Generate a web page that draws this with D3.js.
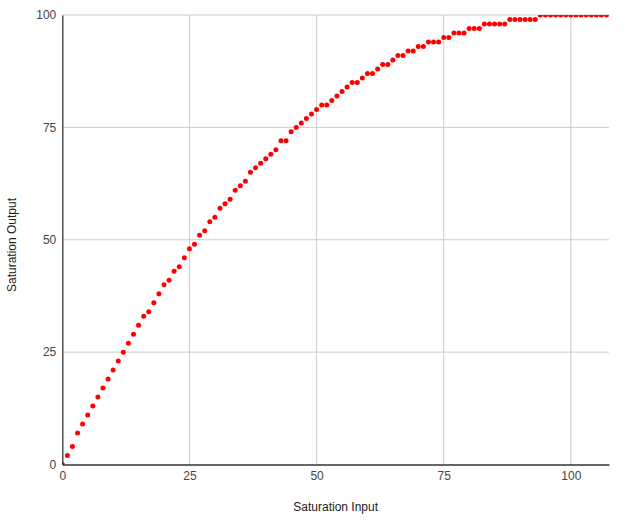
<!DOCTYPE html>
<html>
<head>
<meta charset="utf-8">
<script src="https://cdn.jsdelivr.net/npm/d3@7"></script>
<style>
  body { margin: 0; background: #fff; }
  text { font-family: "Liberation Sans", Arial, sans-serif; }
</style>
</head>
<body>
<div id="vis"></div>
<script>
const width = 629;
const height = 527;
const margin = { top: 15, right: 20, bottom: 62.5, left: 62.3 };

// saturation curve: input 0..107, output
const inputs = d3.range(0, 108);
const outputs = [
  0, 2, 4, 7, 9, 11, 13, 15, 17, 19,
  21, 23, 25, 27, 29, 31, 33, 34, 36, 38,
  40, 41, 43, 44, 46, 48, 49, 51, 52, 54,
  55, 57, 58, 59, 61, 62, 63, 65, 66, 67,
  68, 69, 70, 72, 72, 74, 75, 76, 77, 78,
  79, 80, 80, 81, 82, 83, 84, 85, 85, 86,
  87, 87, 88, 89, 89, 90, 91, 91, 92, 92,
  93, 93, 94, 94, 94, 95, 95, 96, 96, 96,
  97, 97, 97, 98, 98, 98, 98, 98, 99, 99,
  99, 99, 99, 99, 100, 100, 100, 100, 100, 100,
  100, 100, 100, 100, 100, 100, 100, 100
];
const xTicks = [0, 25, 50, 75, 100];
const yTicks = [0, 25, 50, 75, 100];

const points = inputs.map((x, i) => [x, outputs[i]]);

const innerW = width - margin.left - margin.right;
const innerH = height - margin.top - margin.bottom;

const xScale = d3.scaleLinear().domain([0, 107.5]).range([0, innerW]);
const yScale = d3.scaleLinear().domain([0, 100]).range([innerH, 0]);

const svg = d3.select("#vis")
  .append("svg")
  .attr("width", width)
  .attr("height", height);

const g = svg.append("g")
  .attr("transform", "translate(" + margin.left + "," + margin.top + ")");

g.append("defs").append("clipPath")
  .attr("id", "plot-clip")
  .append("rect")
  .attr("width", innerW)
  .attr("height", innerH);

// gridlines
g.append("g")
  .selectAll("line.xgrid")
  .data(xTicks.filter(d => d > 0))
  .enter()
  .append("line")
  .attr("x1", d => xScale(d))
  .attr("x2", d => xScale(d))
  .attr("y1", 0)
  .attr("y2", innerH)
  .attr("stroke", "#cccccc")
  .attr("stroke-width", 1);

g.append("g")
  .selectAll("line.ygrid")
  .data(yTicks.filter(d => d > 0))
  .enter()
  .append("line")
  .attr("x1", 0)
  .attr("x2", innerW)
  .attr("y1", d => yScale(d))
  .attr("y2", d => yScale(d))
  .attr("stroke", "#cccccc")
  .attr("stroke-width", 1);

// dots
g.append("g")
  .attr("clip-path", "url(#plot-clip)")
  .selectAll("circle")
  .data(points)
  .enter()
  .append("circle")
  .attr("cx", d => xScale(d[0]))
  .attr("cy", d => yScale(d[1]))
  .attr("r", 2.5)
  .attr("fill", "#ff0000");

// axes
const xAxis = d3.axisBottom(xScale).tickValues(xTicks).tickSize(0).tickPadding(7);
const yAxis = d3.axisLeft(yScale).tickValues(yTicks).tickSize(0).tickPadding(6);

const gx = g.append("g")
  .attr("transform", "translate(0," + innerH + ")")
  .call(xAxis);
const gy = g.append("g").call(yAxis);

[gx, gy].forEach(a => {
  a.select(".domain").attr("stroke", "#333333").attr("stroke-width", 1.3);
  a.selectAll("text")
    .attr("fill", "#444444")
    .style("font-size", "12px")
    .style("font-family", "'Liberation Sans', Arial, sans-serif");
});

svg.append("text")
  .text("Saturation Input")
  .attr("x", margin.left + innerW / 2)
  .attr("y", 511)
  .attr("text-anchor", "middle")
  .attr("fill", "#222222")
  .style("font-size", "12px");

svg.append("text")
  .text("Saturation Output")
  .attr("transform", "translate(16,245) rotate(-90)")
  .attr("text-anchor", "middle")
  .attr("fill", "#222222")
  .style("font-size", "12px");
</script>
</body>
</html>
